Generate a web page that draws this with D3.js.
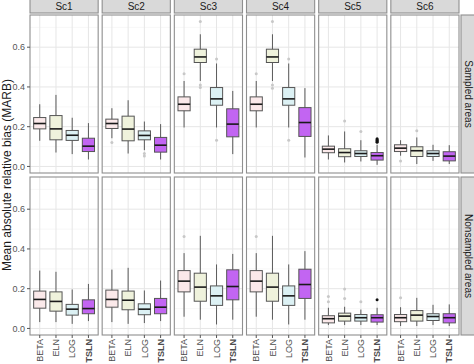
<!DOCTYPE html>
<html>
<head>
<meta charset="utf-8">
<script src="https://cdn.jsdelivr.net/npm/d3@7"></script>
<style>
  body { margin: 0; background: #fff; }
  svg text { font-family: "Liberation Sans", Arial, sans-serif; }
</style>
</head>
<body>
<div id="chart"></div>
<script>
// facet columns, rows and the methods on the x axis
const scenarios = ["Sc1", "Sc2", "Sc3", "Sc4", "Sc5", "Sc6"];
const areas = ["Sampled areas", "Nonsampled areas"];
const methods = ["BETA", "ELN", "LOG", "TSLN"];
const yTicks = [0.0, 0.2, 0.4, 0.6];
const yMinor = [0.1, 0.3, 0.5, 0.7];

// [lower whisker, q1, median, q3, upper whisker] per scenario, per method
const sampledStats = [
  [[0.129, 0.189, 0.216, 0.246, 0.313], [0.070, 0.134, 0.189, 0.256, 0.360], [0.062, 0.131, 0.157, 0.181, 0.245], [0.035, 0.075, 0.102, 0.142, 0.218]],
  [[0.142, 0.191, 0.216, 0.238, 0.293], [0.065, 0.129, 0.188, 0.253, 0.333], [0.082, 0.134, 0.156, 0.179, 0.226], [0.035, 0.072, 0.107, 0.146, 0.213]],
  [[0.196, 0.280, 0.313, 0.350, 0.430], [0.430, 0.523, 0.551, 0.590, 0.665], [0.196, 0.308, 0.340, 0.397, 0.518], [0.062, 0.149, 0.213, 0.290, 0.380]],
  [[0.196, 0.280, 0.313, 0.350, 0.430], [0.430, 0.523, 0.551, 0.590, 0.665], [0.196, 0.308, 0.340, 0.397, 0.518], [0.045, 0.151, 0.221, 0.296, 0.394]],
  [[0.035, 0.069, 0.087, 0.102, 0.156], [0.020, 0.049, 0.070, 0.089, 0.176], [0.025, 0.050, 0.065, 0.079, 0.132], [0.008, 0.032, 0.054, 0.070, 0.109]],
  [[0.054, 0.075, 0.092, 0.109, 0.132], [0.012, 0.050, 0.079, 0.099, 0.146], [0.028, 0.050, 0.065, 0.079, 0.109], [0.012, 0.028, 0.052, 0.074, 0.107]]
];
const nonsampledStats = [
  [[0.032, 0.102, 0.146, 0.188, 0.291], [0.032, 0.087, 0.136, 0.184, 0.285], [0.023, 0.067, 0.097, 0.121, 0.196], [0.037, 0.074, 0.100, 0.144, 0.224]],
  [[0.032, 0.107, 0.146, 0.193, 0.296], [0.023, 0.094, 0.142, 0.188, 0.305], [0.027, 0.069, 0.097, 0.124, 0.191], [0.037, 0.074, 0.107, 0.151, 0.241]],
  [[0.059, 0.184, 0.238, 0.291, 0.379], [0.044, 0.137, 0.208, 0.278, 0.466], [0.020, 0.116, 0.164, 0.214, 0.322], [0.044, 0.144, 0.211, 0.295, 0.375]],
  [[0.059, 0.184, 0.238, 0.291, 0.379], [0.044, 0.137, 0.208, 0.278, 0.466], [0.020, 0.116, 0.164, 0.214, 0.322], [0.044, 0.151, 0.221, 0.298, 0.389]],
  [[0.017, 0.028, 0.049, 0.064, 0.104], [0.017, 0.037, 0.062, 0.077, 0.109], [0.017, 0.037, 0.054, 0.070, 0.095], [0.017, 0.032, 0.054, 0.069, 0.104]],
  [[0.012, 0.034, 0.054, 0.070, 0.107], [0.012, 0.037, 0.067, 0.090, 0.154], [0.017, 0.040, 0.060, 0.074, 0.119], [0.012, 0.028, 0.054, 0.074, 0.121]]
];

// outlying points per scenario, per method
const sampledOutliers = [
  [[], [], [], []],
  [[0.120], [], [0.065, 0.052], []],
  [[0.467], [0.729, 0.410, 0.397], [0.541, 0.132], []],
  [[0.467], [0.729, 0.410, 0.394], [0.541, 0.132], []],
  [[], [0.229], [0.176], [0.122, 0.126, 0.130, 0.134, 0.139]],
  [[0.028], [0.179], [], []]
];
const nonsampledOutliers = [
  [[], [], [], []],
  [[], [], [], []],
  [[0.462], [], [], []],
  [[0.462], [], [], []],
  [[0.161, 0.134], [0.198, 0.151], [0.134], [0.144]],
  [[0.154], [], [], []]
];

const fills = ["#fbe9ea", "#eff2dc", "#dcf1f4", "#c265f2"];
const outlierColors = ["#c8c8c8", "#c8c8c8", "#c8c8c8", "#111111"];

const width = 474, height = 364;
const panelLeft = 30, panelRight = 459, panelTop = 15, panelBottom = 335;

const svg = d3.select("#chart").append("svg")
  .attr("width", width).attr("height", height);

const colX = d3.scaleBand().domain(scenarios)
  .range([panelLeft, panelRight]).paddingInner(0.0554);
const rowY = d3.scaleBand().domain(areas)
  .range([panelTop, panelBottom]).paddingInner(0.0247);
const pw = colX.bandwidth(), ph = rowY.bandwidth();

const x = d3.scalePoint().domain(methods).range([0, pw]).padding(0.6);
const y = d3.scaleLinear().domain([-0.033, 0.762]).range([ph, 0]);
const boxW = x.step() * 0.75;

const statsByRow = [sampledStats, nonsampledStats];
const outByRow = [sampledOutliers, nonsampledOutliers];

areas.forEach((area, r) => {
  scenarios.forEach((sc, c) => {
    const g = svg.append("g")
      .attr("transform", `translate(${colX(sc)},${rowY(area)})`);

    g.append("rect").attr("width", pw).attr("height", ph).attr("fill", "#fff");

    // grid
    g.selectAll(".minor").data(yMinor).enter().append("line")
      .attr("x1", 0).attr("x2", pw)
      .attr("y1", d => y(d)).attr("y2", d => y(d))
      .attr("stroke", "#f2f2f2").attr("stroke-width", 0.6);
    g.selectAll(".major").data(yTicks).enter().append("line")
      .attr("x1", 0).attr("x2", pw)
      .attr("y1", d => y(d)).attr("y2", d => y(d))
      .attr("stroke", "#e6e6e6").attr("stroke-width", 1);
    g.selectAll(".vgrid").data(methods).enter().append("line")
      .attr("x1", d => x(d)).attr("x2", d => x(d))
      .attr("y1", 0).attr("y2", ph)
      .attr("stroke", "#e6e6e6").attr("stroke-width", 1);

    methods.forEach((m, i) => {
      const s = statsByRow[r][c][i];
      const cx = x(m);
      g.append("line")
        .attr("x1", cx).attr("x2", cx)
        .attr("y1", y(s[0])).attr("y2", y(s[4]))
        .attr("stroke", "#5a5a5a").attr("stroke-width", 1);
      g.append("rect")
        .attr("x", cx - boxW / 2).attr("width", boxW)
        .attr("y", y(s[3])).attr("height", y(s[1]) - y(s[3]))
        .attr("fill", fills[i])
        .attr("stroke", "#555").attr("stroke-width", 1);
      g.append("line")
        .attr("x1", cx - boxW / 2).attr("x2", cx + boxW / 2)
        .attr("y1", y(s[2])).attr("y2", y(s[2]))
        .attr("stroke", "#1a1a1a").attr("stroke-width", 1.6);
      g.selectAll(null).data(outByRow[r][c][i]).enter().append("circle")
        .attr("cx", cx).attr("cy", d => y(d)).attr("r", 1.5)
        .attr("fill", outlierColors[i]);
    });

    g.append("rect").attr("width", pw).attr("height", ph)
      .attr("fill", "none").attr("stroke", "#8f8f8f").attr("stroke-width", 1.1);

    // y axis on first column
    if (c === 0) {
      const ya = g.append("g");
      yTicks.forEach(t => {
        ya.append("line").attr("x1", -3).attr("x2", 0)
          .attr("y1", y(t)).attr("y2", y(t)).attr("stroke", "#555");
        ya.append("text").attr("x", -5).attr("y", y(t))
          .attr("text-anchor", "end").attr("dy", "0.35em")
          .attr("font-size", 9).attr("fill", "#555")
          .text(d3.format(".1f")(t));
      });
    }

    // x axis on bottom row
    if (r === areas.length - 1) {
      methods.forEach(m => {
        g.append("line").attr("x1", x(m)).attr("x2", x(m))
          .attr("y1", ph).attr("y2", ph + 3).attr("stroke", "#555");
        g.append("text")
          .attr("transform", `translate(${x(m)},${ph + 4}) rotate(-90)`)
          .attr("text-anchor", "end").attr("dy", "0.35em")
          .attr("font-size", 9).attr("fill", "#4d4d4d")
          .attr("font-weight", m === "TSLN" ? "bold" : "normal")
          .text(m);
      });
    }
  });
});

// top strips
scenarios.forEach(sc => {
  svg.append("rect").attr("x", colX(sc)).attr("y", -1)
    .attr("width", pw).attr("height", panelTop - 1)
    .attr("fill", "#d9d9d9").attr("stroke", "#8f8f8f").attr("stroke-width", 1.1);
  svg.append("text").attr("x", colX(sc) + pw / 2).attr("y", (panelTop - 2) / 2)
    .attr("text-anchor", "middle").attr("dy", "0.35em")
    .attr("font-size", 10).attr("fill", "#1a1a1a").text(sc);
});

// right strips
areas.forEach(area => {
  svg.append("rect").attr("x", panelRight + 2).attr("y", rowY(area))
    .attr("width", width - panelRight).attr("height", ph)
    .attr("fill", "#d9d9d9").attr("stroke", "#8f8f8f").attr("stroke-width", 1.1);
  svg.append("text")
    .attr("transform", `translate(${panelRight + 9},${rowY(area) + ph / 2}) rotate(90)`)
    .attr("text-anchor", "middle").attr("dy", "0.35em")
    .attr("font-size", 10).attr("fill", "#1a1a1a").text(area);
});

// y title
svg.append("text")
  .attr("transform", `translate(7,${(panelTop + panelBottom) / 2}) rotate(-90)`)
  .attr("text-anchor", "middle").attr("dy", "0.35em")
  .attr("font-size", 12).attr("fill", "#1a1a1a")
  .text("Mean absolute relative bias (MARB)");
</script>
</body>
</html>
